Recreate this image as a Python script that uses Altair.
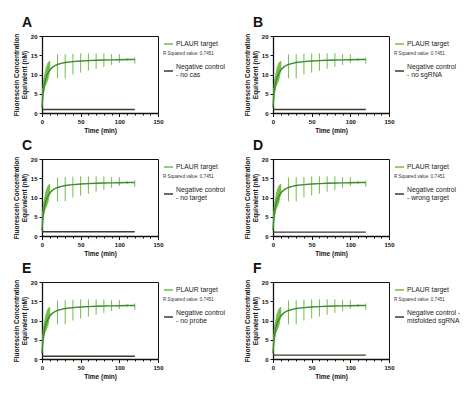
import altair as alt
import pandas as pd

# ---- data ----
bar_t = [0.5, 1, 1.5, 2, 2.5, 3, 3.5, 4, 4.5, 5, 5.5, 6, 6.5, 7, 7.5, 8, 8.5, 9, 9.5, 10,
         20, 30, 40, 50, 60, 70, 80, 90, 100, 110, 120]
bar_low = [2.5, 3.5, 4.5, 5.0, 5.5, 6.0, 6.5, 7.0, 7.0, 7.5, 7.5, 8.0, 8.0, 8.5, 8.5, 9.0, 9.5, 10.0, 10.5, 11.0,
           9.0, 9.0, 10.0, 10.5, 11.0, 11.5, 12.0, 12.5, 13.0, 13.5, 12.8]
bar_high = [5.0, 6.5, 7.5, 8.5, 9.0, 9.5, 10.0, 10.5, 11.0, 11.5, 12.0, 12.0, 12.5, 12.5, 13.0, 13.0, 13.2, 13.3, 13.4, 13.5,
            15.2, 15.3, 15.4, 15.5, 15.5, 15.5, 15.5, 15.3, 15.3, 14.2, 14.4]

fit_t = [0, 0.5, 1, 1.5, 2, 3, 4, 5, 6, 7, 8, 10, 12, 15, 20, 25, 30, 40, 50, 60, 70, 80, 90, 100, 110, 120]
fit_y = [1.5, 3.0, 4.2, 5.2, 6.0, 7.3, 8.3, 9.0, 9.6, 10.1, 10.5, 11.1, 11.6, 12.1, 12.6, 12.9, 13.1,
         13.35, 13.5, 13.6, 13.7, 13.75, 13.8, 13.85, 13.9, 13.9]

neg_t = [0, 10, 20, 30, 40, 50, 60, 70, 80, 90, 100, 110, 120]
neg_values = {
    "A": [0.9, 0.9, 0.9, 0.9, 0.9, 0.9, 0.9, 0.9, 0.9, 0.9, 0.9, 0.9, 0.9],
    "B": [0.9, 0.9, 0.9, 0.9, 0.9, 0.9, 0.9, 0.9, 0.9, 0.9, 0.9, 0.9, 0.9],
    "C": [1.1, 1.1, 1.1, 1.1, 1.1, 1.1, 1.1, 1.1, 1.1, 1.1, 1.1, 1.1, 1.1],
    "D": [1.0, 1.0, 1.0, 1.0, 1.0, 1.0, 1.0, 1.0, 1.0, 1.0, 1.0, 1.0, 1.0],
    "E": [0.7, 0.7, 0.7, 0.7, 0.7, 0.7, 0.7, 0.7, 0.7, 0.7, 0.7, 0.7, 0.7],
    "F": [1.0, 1.0, 1.0, 1.0, 1.0, 1.0, 1.0, 1.0, 1.0, 1.0, 1.0, 1.0, 1.0],
}
panel_letters = ["A", "B", "C", "D", "E", "F"]
neg_labels = {
    "A": ["Negative control", "- no cas"],
    "B": ["Negative control", "- no sgRNA"],
    "C": ["Negative control", "- no target"],
    "D": ["Negative control", "- wrong target"],
    "E": ["Negative control", "- no probe"],
    "F": ["Negative control -", "misfolded sgRNA"],
}
target_label = "PLAUR target"
r2_label = "R Squared value: 0.7451"

FONT = "Liberation Sans"
BAR = "#72bd4a"
FIT = "#3d8a2f"
NEG = "#3c3a28"
W, H = 116, 77

bars_df = pd.DataFrame({"t": bar_t, "low": bar_low, "high": bar_high})
fit_df = pd.DataFrame({"t": fit_t, "y": fit_y})

xscale = alt.Scale(domain=[0, 150], nice=False)
yscale = alt.Scale(domain=[0, 20], nice=False)

xaxis = alt.Axis(
    title="Time (min)", values=list(range(0, 151, 10)),
    labelExpr="datum.value % 50 === 0 ? datum.label : ''",
    tickSize={"condition": {"test": "datum.value % 50 === 0", "value": 3.5}, "value": 2},
    grid=False, labelFlush=False, labelOverlap=False,
)
yaxis = alt.Axis(
    title=["Fluorescein Concentration", "Equivalent (nM)"], values=[0, 5, 10, 15, 20],
    grid=False, tickSize=3, labelOverlap=False, labelFlush=False,
)


def one():
    return alt.Data(values=[{"k": 1}])


def panel(letter):
    bars = alt.Chart(bars_df).mark_rule(color=BAR, strokeWidth=1).encode(
        x=alt.X("t:Q", scale=xscale, axis=xaxis),
        y=alt.Y("low:Q", scale=yscale, axis=yaxis),
        y2="high:Q",
    )
    fit = alt.Chart(fit_df).mark_line(color=FIT, strokeWidth=1.4).encode(
        x=alt.X("t:Q", scale=xscale, axis=xaxis), y=alt.Y("y:Q", scale=yscale, axis=yaxis)
    )
    neg_df = pd.DataFrame({"t": neg_t, "y": neg_values[letter]})
    neg = alt.Chart(neg_df).mark_line(color=NEG, strokeWidth=1.4).encode(
        x=alt.X("t:Q", scale=xscale, axis=xaxis), y=alt.Y("y:Q", scale=yscale, axis=yaxis)
    )
    g_sym = alt.Chart(one()).mark_rule(color=BAR, strokeWidth=1.5).encode(
        x=alt.value(122), x2=alt.value(131), y=alt.value(8))
    g_txt = alt.Chart(one()).mark_text(
        text=target_label, align="left", baseline="middle", fontSize=6.8, font=FONT, color="#222"
    ).encode(x=alt.value(134), y=alt.value(8))
    r_txt = alt.Chart(one()).mark_text(
        text=r2_label, align="left", baseline="middle", fontSize=4.6, font=FONT, color="#333"
    ).encode(x=alt.value(121), y=alt.value(17.5))
    n_sym = alt.Chart(one()).mark_rule(color=NEG, strokeWidth=1.5).encode(
        x=alt.value(122), x2=alt.value(131), y=alt.value(35))
    n_txt = alt.Chart(one()).mark_text(
        text=neg_labels[letter], align="left", baseline="middle", fontSize=6.8, lineHeight=7.5,
        font=FONT, color="#222"
    ).encode(x=alt.value(134), y=alt.value(31))
    return alt.layer(bars, fit, neg, g_sym, g_txt, r_txt, n_sym, n_txt).properties(
        width=W, height=H,
        title=alt.TitleParams(letter, anchor="start", frame="group", fontSize=14, fontWeight="bold",
                              font=FONT, dx=-20, offset=3, color="#111"),
    )


chart = alt.concat(*[panel(l) for l in panel_letters], columns=2, spacing={"column": 18, "row": 3}).configure(
    padding={"left": 5, "top": 7, "right": 0, "bottom": 0},
    font=FONT,
).configure_view(stroke="#111", strokeWidth=1).configure_axis(
    domainColor="#111", domainWidth=1.3, tickColor="#111", tickWidth=1,
    labelFont=FONT, labelFontSize=6, labelFontWeight="bold", labelColor="#111", labelPadding=2,
    titleFont=FONT, titleFontSize=6.5, titleLineHeight=7.5, titleFontWeight="bold", titleColor="#111",
    titlePadding=3,
)

chart.save("out.html", embed_options={"renderer": "svg", "actions": False})
